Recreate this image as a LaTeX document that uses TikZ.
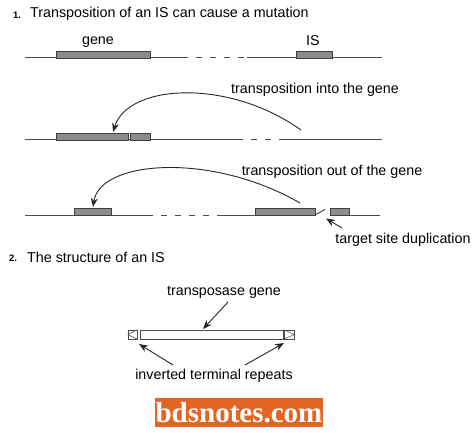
\documentclass[tikz,border=0pt]{standalone}
\usepackage{fontspec}
\setmainfont{Liberation Sans}
\newfontfamily\wmfont{Liberation Serif}
\usetikzlibrary{arrows.meta}
\definecolor{wmorange}{RGB}{226,102,34}
\begin{document}
\begin{tikzpicture}[x=1pt,y=-1pt,
  dna/.style={draw=black!70, line width=1pt},
  dnadash/.style={draw=black!70, line width=1pt, dash pattern=on 6pt off 8pt, dash phase=6pt},
  seg/.style={draw=black!75, fill=black!45, line width=0.6pt, inner sep=0pt, minimum height=6.5pt},
  isbox/.style={draw=black!70, fill=white, line width=0.6pt, inner sep=0pt, minimum height=9pt},
  lbl/.style={font=\fontsize{14.3}{16}\selectfont, inner sep=0pt},
  num/.style={font=\fontsize{9.5}{11}\selectfont\bfseries, inner sep=0pt},
  arr/.style={-{Stealth[length=9pt,width=7pt]}, line width=0.9pt, draw=black!85},
]
\useasboundingbox (0,0) rectangle (474,433);

% ---------- section 1 title
\node[num, anchor=west] (n1) at (13,15) {1.};
\node[lbl, anchor=west] (t1) at (30,14) {Transposition of an IS can cause a mutation};

% ---------- row 1
\coordinate (r1a) at (25,58);
\coordinate (r1b) at (188,58);
\coordinate (r1c) at (247,58);
\coordinate (r1d) at (382,58);
\draw[dna] (r1a) -- (r1b);
\draw[dnadash] (r1b) -- (r1c);
\draw[dna] (r1c) -- (r1d);
\node[seg, minimum width=94pt] (gene1) at (103,55) {};
\node[seg, minimum width=36pt] (is1) at (314,55) {};
\node[lbl] (genelbl) at (98,42) {gene};
\node[lbl] (islbl) at (313,41) {IS};

% ---------- row 2
\node[lbl] (into) at (315,90) {transposition into the gene};
\coordinate (r2a) at (25,140);
\coordinate (r2b) at (243,140);
\coordinate (r2c) at (279,140);
\coordinate (r2d) at (382,140);
\draw[dna] (r2a) -- (r2b);
\draw[dnadash] (r2b) -- (r2c);
\draw[dna] (r2c) -- (r2d);
\node[seg, minimum width=72pt] (gene2) at (92,137) {};
\node[seg, minimum width=20pt] (is2) at (140,137) {};
\coordinate (arc1s) at (301,130);
\coordinate (arc1e) at (113,132);
\draw[arr] (arc1s) .. controls (228,78) and (128,84) .. (arc1e);

% ---------- row 3
\node[lbl] (outof) at (332,172) {transposition out of the gene};
\coordinate (r3a) at (25,215);
\coordinate (r3b) at (153,215);
\coordinate (r3c) at (218,215);
\coordinate (r3d) at (315,215);
\coordinate (r3s) at (325,209.5);
\coordinate (r3e) at (330,215);
\coordinate (r3f) at (380,215);
\draw[dna] (r3a) -- (r3b);
\draw[dnadash] (r3b) -- (r3c);
\draw[dna] (r3c) -- (r3d);
\draw[dna] (r3d) -- (r3s);
\draw[dna] (r3e) -- (r3f);
\node[seg, minimum width=37pt] (gene3) at (92.5,212) {};
\node[seg, minimum width=60pt] (is3) at (285,212) {};
\node[seg, minimum width=19pt] (tsd) at (339.5,212) {};
\coordinate (arc2s) at (300,203);
\coordinate (arc2e) at (93,207);
\draw[arr] (arc2s) .. controls (212,152) and (100,160) .. (arc2e);
\node[lbl] (tsdlbl) at (403,240) {target site duplication};
\coordinate (tsdtail) at (342,228);
\coordinate (tsdtip) at (326,218.5);
\draw[arr] (tsdtail) -- (tsdtip);

% ---------- section 2 title
\node[num, anchor=west] (n2) at (9,258) {2.};
\node[lbl, anchor=west] (t2) at (27,257) {The structure of an IS};

% ---------- IS structure
\node[lbl] (tpase) at (224,292) {transposase gene};
\node[isbox, minimum width=9pt] (itrL) at (132.5,334.5) {};
\node[isbox, minimum width=143pt] (core) at (211.5,334.5) {};
\node[isbox, minimum width=10pt] (itrR) at (289,334.5) {};
\draw[black!70, line width=0.5pt] (itrL.west) -- (itrL.north east) (itrL.west) -- (itrL.south east);
\draw[black!70, line width=0.5pt] (itrR.east) -- (itrR.north west) (itrR.east) -- (itrR.south west);
\coordinate (tpasetail) at (228,302);
\coordinate (tpasetip) at (203,329);
\draw[arr] (tpasetail) -- (tpasetip);
\node[lbl] (itrlbl) at (214,376) {inverted terminal repeats};
\coordinate (itrLtail) at (173,365);
\coordinate (itrLtip) at (139,344);
\coordinate (itrRtail) at (245,365);
\coordinate (itrRtip) at (284,343);
\draw[arr] (itrLtail) -- (itrLtip);
\draw[arr] (itrRtail) -- (itrRtip);

% ---------- watermark
\node[fill=wmorange, text=white, inner sep=0pt, minimum width=168pt, minimum height=29pt,
      font=\wmfont\bfseries\fontsize{29}{30}\selectfont] (wm) at (239,412.5) {bdsnotes.com};
\end{tikzpicture}
\end{document}
